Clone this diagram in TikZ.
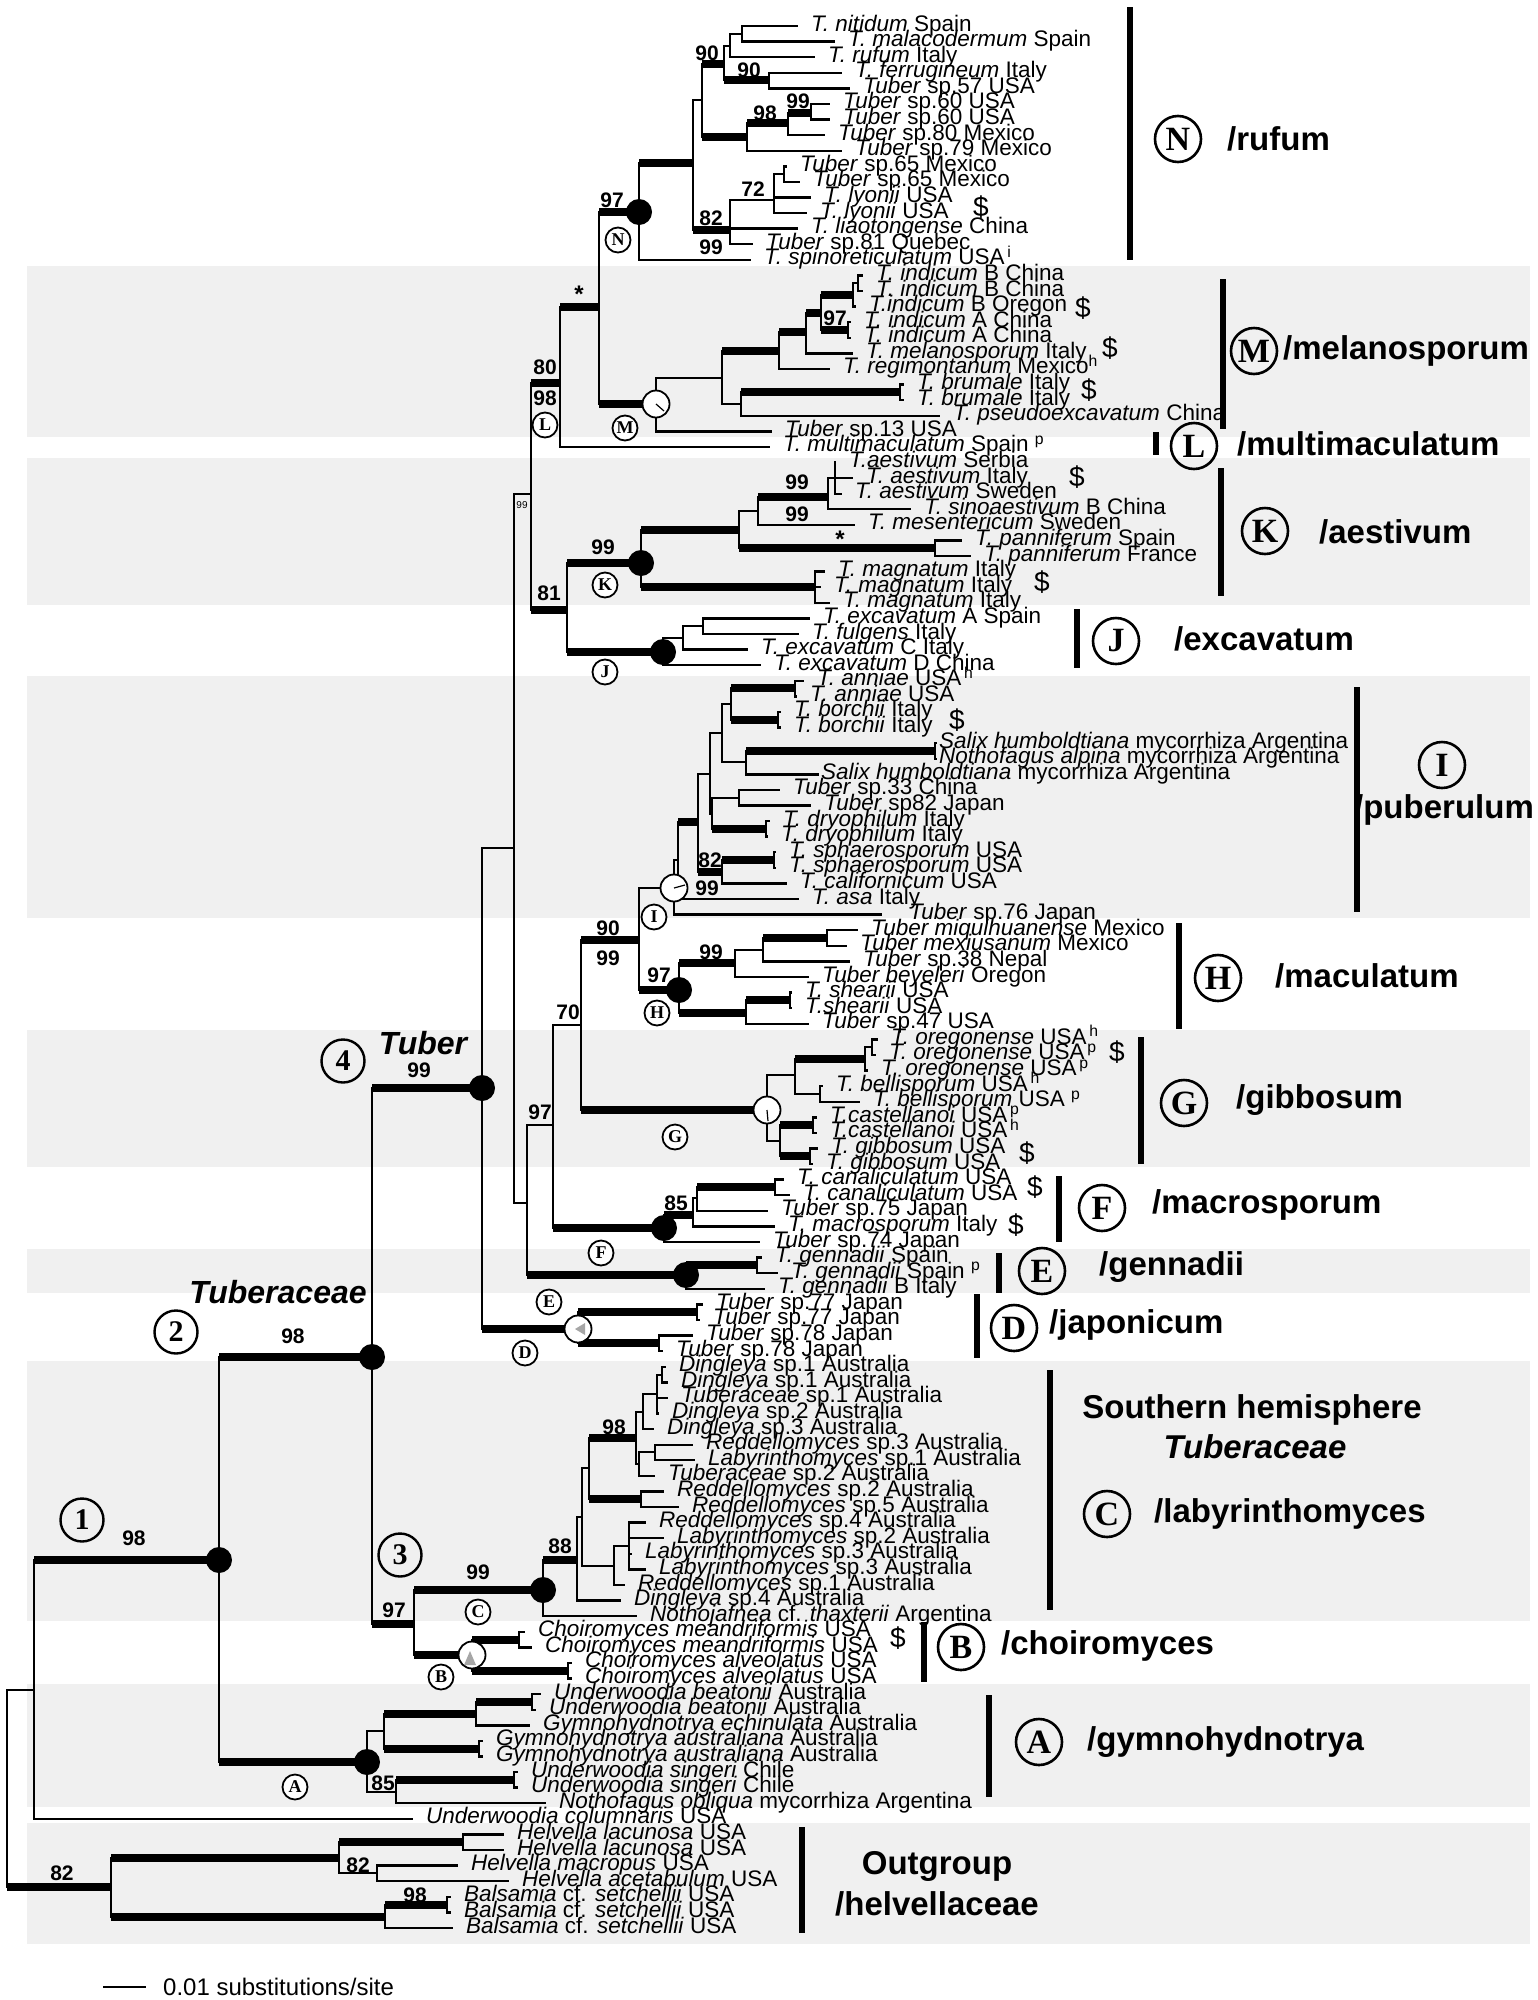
\documentclass[tikz,border=0pt]{standalone}
\usepackage{fontspec}
\setmainfont{Liberation Sans}
\newfontfamily\romfont{Liberation Serif}
\usetikzlibrary{calc}
\tikzset{leaf/.style={anchor=west,inner xsep=13pt,inner ysep=0pt,text height=14.5pt,text depth=4.5pt,font=\fontsize{22.5}{22.5}\selectfont}}
\tikzset{hl/.style={line width=2.4pt},fat/.style={line width=7.5pt}}
\tikzset{dot/.style={circle,fill,minimum size=26pt,inner sep=0pt},odot/.style={circle,draw,line width=1.8pt,fill=white,minimum size=27pt,inner sep=0pt}}
\tikzset{lc/.style={circle,draw,line width=1.8pt,fill=white,minimum size=25pt,inner sep=0pt,font=\romfont\bfseries\fontsize{18}{18}\selectfont}}
\tikzset{bc/.style={circle,draw,line width=2.6pt,minimum size=46pt,inner sep=0pt,font=\romfont\bfseries\fontsize{34}{34}\selectfont}}
\tikzset{nc/.style={circle,draw,line width=2.4pt,minimum size=43pt,inner sep=0pt,font=\romfont\bfseries\fontsize{30}{30}\selectfont}}
\tikzset{bs/.style={inner sep=0pt,font=\bfseries\fontsize{21}{21}\selectfont}}
\tikzset{cbar/.style={line width=6.5pt},clade/.style={anchor=west,inner sep=0pt,font=\bfseries\fontsize{33}{33}\selectfont}}
\tikzset{dol/.style={inner sep=0pt,font=\fontsize{28}{28}\selectfont},band/.style={fill=black!6}}
\newcommand\tb[2]{\draw[hl] (#1) |- (#2);}
\newcommand\fb[2]{\draw[hl] (#1) |- (#2); \draw[fat] (#1 |- #2) -- (#2);}
\begin{document}
\begin{tikzpicture}[x=1pt,y=-1pt]
\useasboundingbox (0,0) rectangle (1538,2000);
% grey bands
\foreach \ya/\yb in {266/437,458/605,676/918,1030/1167,1249/1293,1361/1621,1684/1807,1823/1944}
  \fill[band] (27,\ya) rectangle (1530,\yb);
% leaves
\foreach \i/\t/\s in {
1/798/{\textit{T. nitidum} Spain},
2/835/{\textit{T. malacodermum} Spain},
3/815/{\textit{T. rufum} Italy},
4/842/{\textit{T. ferrugineum}  Italy},
5/850/{\textit{Tuber} sp.57 USA},
6/830/{\textit{Tuber} sp.60 USA},
7/830/{\textit{Tuber} sp.60 USA},
8/825/{\textit{Tuber} sp.80 Mexico},
9/842/{\textit{Tuber} sp.79  Mexico},
10/787/{\textit{Tuber} sp.65 Mexico},
11/800/{\textit{Tuber} sp.65 Mexico},
12/811/{\textit{T. lyonii} USA},
13/807/{\textit{T. lyonii} USA},
14/798/{\textit{T. liaotongense} China},
15/753/{\textit{Tuber} sp.81  Quebec},
16/751/{\textit{T. spinoreticulatum}  USA\textsuperscript{\,i}},
17/863/{\textit{T. indicum} B China},
18/863/{\textit{T. indicum} B China},
19/856/{\textit{T.indicum} B Oregon},
20/851/{\textit{T. indicum} A China},
21/851/{\textit{T. indicum} A China},
22/853/{\textit{T. melanosporum} Italy},
23/830/{\textit{T. regimontanum} Mexico\textsuperscript{h}},
24/904/{\textit{T. brumale} Italy},
25/904/{\textit{T. brumale} Italy},
26/940/{\textit{T. pseudoexcavatum} China},
27/772/{\textit{Tuber} sp.13 USA},
28/770/{\textit{T. multimaculatum} Spain \textsuperscript{p}},
29/836/{\textit{T.aestivum} Serbia},
30/853/{\textit{T. aestivum} Italy},
31/842/{\textit{T. aestivum} Sweden},
32/911/{\textit{T. sinoaestivum} B China},
33/855/{\textit{T. mesentericum} Sweden},
34/962/{\textit{T. panniferum} Spain},
35/971/{\textit{T. panniferum} France},
36/825/{\textit{T. magnatum} Italy},
37/821/{\textit{T. magnatum} Italy},
38/830/{\textit{T. magnatum} Italy},
39/810/{\textit{T. excavatum}  A Spain},
40/799/{\textit{T. fulgens} Italy},
41/748/{\textit{T. excavatum} C Italy},
42/761/{\textit{T. excavatum} D China},
43/804/{\textit{T. anniae} USA\textsuperscript{\,h}},
44/797/{\textit{T. anniae} USA},
45/781/{\textit{T. borchii} Italy},
46/781/{\textit{T. borchii} Italy},
50/780/{\textit{Tuber} sp.33 China},
51/811/{\textit{Tuber} sp82 Japan},
52/770/{\textit{T. dryophilum} Italy},
53/768/{\textit{T. dryophilum} Italy},
54/776/{\textit{T. sphaerosporum} USA},
55/776/{\textit{T. sphaerosporum} USA},
56/787/{\textit{T. californicum} USA},
57/799/{\textit{T. asa} Italy}}
  \node[leaf] (l\i) at (\t,{26+(\i-1)*15.59}) {\s};
\node[leaf,inner xsep=2pt] (l47) at (937,{26+46*15.59}) {\textit{Salix humboldtiana} mycorrhiza Argentina};
\node[leaf,inner xsep=2pt] (l48) at (937,{26+47*15.59}) {\textit{Nothofagus alpina} mycorrhiza Argentina};
\node[leaf,inner xsep=2pt] (l49) at (819,{26+48*15.59}) {\textit{Salix humboldtiana} mycorrhiza Argentina};
\node[leaf,inner xsep=27pt] (l58) at (882,{26+57*15.59}) {\textit{Tuber} sp.76 Japan};
\foreach \i/\t/\s in {
59/858/{\textit{Tuber miquihuanense} Mexico},
60/847/{\textit{Tuber mexiusanum} Mexico},
61/850/{\textit{Tuber} sp.38 Nepal},
62/809/{\textit{Tuber beyeleri} Oregon},
63/792/{\textit{T. shearii} USA},
64/792/{\textit{T.shearii}  USA},
65/809/{\textit{Tuber} sp.47 USA},
66/878/{\textit{T. oregonense} USA\textsuperscript{\,h}},
67/876/{\textit{T. oregonense} USA\textsuperscript{\,p}},
68/868/{\textit{T. oregonense} USA\textsuperscript{\,p}},
69/823/{\textit{T. bellisporum} USA\textsuperscript{\,h}},
70/860/{\textit{T. bellisporum} USA \textsuperscript{p}},
71/817/{\textit{T.castellanoi} USA\textsuperscript{\,p}},
72/817/{\textit{T.castellanoi} USA\textsuperscript{\,h}},
73/818/{\textit{T. gibbosum} USA},
74/813/{\textit{T. gibbosum} USA},
75/784/{\textit{T. canaliculatum} USA},
76/790/{\textit{T. canaliculatum} USA},
77/768/{\textit{Tuber} sp.75 Japan},
78/775/{\textit{T. macrosporum} Italy},
79/760/{\textit{Tuber} sp.74 Japan},
80/762/{\textit{T. gennadii} Spain},
81/778/{\textit{T. gennadii} Spain \textsuperscript{p}},
82/765/{\textit{T. gennadii} B Italy},
83/703/{\textit{Tuber} sp.77 Japan},
84/700/{\textit{Tuber} sp.77 Japan},
85/693/{\textit{Tuber} sp.78 Japan},
86/663/{\textit{Tuber} sp.78 Japan}}
  \node[leaf] (l\i) at (\t,{26+(\i-1)*15.59}) {\s};
\foreach \i/\t/\s in {
87/666/{\textit{Dingleya} sp.1 Australia},
88/668/{\textit{Dingleya} sp.1 Australia},
89/668/{\textit{Tuberaceae} sp.1 Australia},
90/659/{\textit{Dingleya} sp.2 Australia},
91/654/{\textit{Dingleya} sp.3 Australia},
92/693/{\textit{Reddellomyces} sp.3 Australia},
93/695/{\textit{Labyrinthomyces} sp.1 Australia},
94/655/{\textit{Tuberaceae} sp.2 Australia},
95/664/{\textit{Reddellomyces} sp.2 Australia},
96/679/{\textit{Reddellomyces} sp.5 Australia},
97/646/{\textit{Reddellomyces} sp.4 Australia},
98/664/{\textit{Labyrinthomyces} sp.2 Australia},
99/632/{\textit{Labyrinthomyces} sp.3 Australia},
100/646/{\textit{Labyrinthomyces} sp.3 Australia},
101/625/{\textit{Reddellomyces} sp.1 Australia},
102/621/{\textit{Dingleya} sp.4 Australia},
103/637/{\textit{Nothojafnea} cf. \textit{thaxterii} Argentina},
104/525/{\textit{Choiromyces meandriformis} USA},
105/532/{\textit{Choiromyces meandriformis} USA},
106/572/{\textit{Choiromyces alveolatus} USA},
107/572/{\textit{Choiromyces alveolatus} USA},
108/541/{\textit{Underwoodia beatonii} Australia},
109/536/{\textit{Underwoodia beatonii} Australia},
110/530/{\textit{Gymnohydnotrya echinulata} Australia},
111/483/{\textit{Gymnohydnotrya australiana} Australia},
112/483/{\textit{Gymnohydnotrya australiana} Australia},
113/518/{\textit{Underwoodia singeri} Chile},
114/518/{\textit{Underwoodia singeri} Chile},
115/546/{\textit{Nothofagus obliqua} mycorrhiza Argentina},
116/413/{\textit{Underwoodia columnaris} USA},
117/504/{\textit{Helvella lacunosa} USA},
118/504/{\textit{Helvella lacunosa} USA},
119/458/{\textit{Helvella macropus} USA},
120/509/{\textit{Helvella acetabulum} USA},
121/451/{\textit{Balsamia} cf. \textit{setchellii} USA},
122/451/{\textit{Balsamia} cf. \textit{setchellii} USA},
123/453/{\textit{Balsamia} cf. \textit{setchellii} USA}}
  \node[leaf] (l\i) at (\t,{26+(\i-1)*15.59}) {\s};
% backbone
\coordinate (root) at (7,1788);
\coordinate (n1) at (34,1690);
\coordinate (og) at (111,1887);
\coordinate (tub) at (219,1560);
\coordinate (n2) at (372,1357);
\coordinate (nA) at (367,1762);
\coordinate (tuber) at (482,1088);
\coordinate (n3) at (414,1624);
\coordinate (nC) at (543,1590);
\coordinate (nB) at (472,1655);
\coordinate (t2) at (514,848);
\coordinate (t3) at (531,494);
\coordinate (t4) at (527,1203);
\coordinate (t5) at (553,1125);
\coordinate (t6) at (581,1025);
\coordinate (lmn) at (560,383);
\coordinate (kj) at (567,610);
\coordinate (star) at (599,307);
\coordinate (nN) at (639,212);
\coordinate (nM) at (656,404);
\coordinate (nK) at (641,563);
\coordinate (nJ) at (663,652);
\coordinate (ih) at (639,940);
\coordinate (nI) at (674,888);
\coordinate (nH) at (679,990);
\coordinate (nG) at (767,1110);
\coordinate (nF) at (664,1228);
\coordinate (nE) at (686,1275);
\coordinate (nD) at (578,1329);
\tb{root}{n1} \fb{root}{og}
\fb{n1}{tub} \tb{n1}{l116}
\fb{tub}{n2} \fb{tub}{nA}
\fb{n2}{tuber} \fb{n2}{n3}
\fb{n3}{nC} \fb{n3}{nB}
\tb{tuber}{t2} \fb{tuber}{nD}
\tb{t2}{t3} \tb{t2}{t4}
\fb{t3}{lmn} \fb{t3}{kj}
\fb{lmn}{star} \tb{lmn}{l28}
\fb{star}{nN} \fb{star}{nM}
\tb{t4}{t5} \fb{t4}{nE}
\tb{t5}{t6} \fb{t5}{nF}
\fb{t6}{ih} \fb{t6}{nG}
\tb{ih}{nI} \fb{ih}{nH}
\fb{kj}{nK} \fb{kj}{nJ}
% N /rufum
\coordinate (r1) at (742,34);
\coordinate (r2) at (730,46);
\coordinate (r3) at (724,64);
\coordinate (r4) at (769,80);
\coordinate (r5) at (747,137);
\coordinate (r6) at (788,123);
\coordinate (r7) at (811,113);
\coordinate (r8) at (702,100);
\coordinate (r9) at (693,163);
\coordinate (r10) at (730,230);
\coordinate (r11) at (774,200);
\coordinate (r13) at (784,174);
\fb{nN}{r9} \tb{nN}{l16}
\tb{r9}{r8} \fb{r9}{r10}
\fb{r8}{r3} \fb{r8}{r5}
\tb{r3}{r2} \fb{r3}{r4}
\tb{r2}{r1} \tb{r2}{l3}
\tb{r1}{l1} \tb{r1}{l2}
\tb{r4}{l4} \tb{r4}{l5}
\fb{r5}{r6} \tb{r5}{l9}
\fb{r6}{r7} \tb{r6}{l8}
\tb{r7}{l6} \tb{r7}{l7}
\tb{r10}{r11} \tb{r10}{l14} \tb{r10}{l15}
\tb{r11}{r13} \tb{r11}{l12} \tb{r11}{l13}
\tb{r13}{l10} \tb{r13}{l11}
% M /melanosporum
\coordinate (m1) at (722,378);
\coordinate (m2) at (779,351);
\coordinate (m3) at (741,404);
\coordinate (m4) at (806,332);
\coordinate (m5) at (821,313);
\coordinate (m6) at (853,295);
\coordinate (m7) at (848,330);
\coordinate (m8) at (858,283);
\coordinate (m9) at (900,392);
\tb{nM}{m1} \tb{nM}{l27}
\fb{m1}{m2} \tb{m1}{m3}
\fb{m2}{m4} \tb{m2}{l23}
\fb{m4}{m5} \tb{m4}{l22}
\fb{m5}{m6} \fb{m5}{m7}
\tb{m6}{m8} \tb{m6}{l19}
\tb{m8}{l17} \tb{m8}{l18}
\tb{m7}{l20} \tb{m7}{l21}
\fb{m3}{m9} \tb{m3}{l26}
\tb{m9}{l24} \tb{m9}{l25}
% K /aestivum and J /excavatum
\coordinate (k1) at (739,530);
\coordinate (k2) at (815,587);
\coordinate (k3) at (758,511);
\coordinate (k4) at (935,548);
\coordinate (k5) at (828,497);
\coordinate (k6) at (835,478);
\coordinate (j1) at (683,638);
\coordinate (j2) at (703,626);
\fb{nK}{k1} \fb{nK}{k2}
\tb{k1}{k3} \fb{k1}{k4}
\fb{k3}{k5} \tb{k3}{l33}
\tb{k5}{k6} \tb{k5}{l32}
\tb{k6}{l29} \tb{k6}{l30} \tb{k6}{l31}
\tb{k4}{l34} \tb{k4}{l35}
\tb{k2}{l36} \tb{k2}{l37} \tb{k2}{l38}
\tb{nJ}{j1} \tb{nJ}{l42} \tb{j1}{j2} \tb{j1}{l41} \tb{j2}{l39} \tb{j2}{l40}
% I /puberulum
\coordinate (i1) at (678,860);
\coordinate (i2) at (698,822);
\coordinate (i3) at (722,872);
\coordinate (i4) at (774,860);
\coordinate (i5) at (712,814);
\coordinate (i6) at (731,704);
\coordinate (i7) at (746,762);
\coordinate (i8) at (722,733);
\coordinate (i9) at (710,774);
\coordinate (i10) at (739,798);
\coordinate (i11) at (766,829);
\coordinate (i12) at (795,688);
\coordinate (i13) at (778,720);
\coordinate (i14) at (935,751);
\tb{nI}{i1} \tb{nI}{l58}
\fb{i1}{i2} \tb{i1}{l57}
\tb{i2}{i9} \fb{i2}{i3}
\fb{i3}{i4} \tb{i3}{l56}
\tb{i4}{l54} \tb{i4}{l55}
\tb{i9}{i8} \tb{i9}{i5}
\tb{i8}{i6} \tb{i8}{i7}
\fb{i6}{i12} \fb{i6}{i13}
\tb{i12}{l43} \tb{i12}{l44}
\tb{i13}{l45} \tb{i13}{l46}
\fb{i7}{i14} \tb{i7}{l49}
\tb{i14}{l47} \tb{i14}{l48}
\tb{i5}{i10} \fb{i5}{i11}
\tb{i10}{l50} \tb{i10}{l51}
\tb{i11}{l52} \tb{i11}{l53}
% H /maculatum
\coordinate (h1) at (735,963);
\coordinate (h2) at (763,950);
\coordinate (h3) at (827,938);
\coordinate (h4) at (746,1013);
\coordinate (h5) at (790,1000);
\fb{nH}{h1} \fb{nH}{h4}
\tb{h1}{h2} \tb{h1}{l62}
\fb{h2}{h3} \tb{h2}{l61}
\tb{h3}{l59} \tb{h3}{l60}
\fb{h4}{h5} \tb{h4}{l65}
\tb{h5}{l63} \tb{h5}{l64}
% G /gibbosum
\coordinate (g1) at (795,1075);
\coordinate (g2) at (865,1059);
\coordinate (g3) at (820,1094);
\coordinate (g4) at (872,1047);
\coordinate (g5) at (780,1141);
\coordinate (g6) at (813,1125);
\coordinate (g7) at (810,1156);
\tb{nG}{g1} \tb{nG}{g5}
\fb{g1}{g2} \tb{g1}{g3}
\tb{g2}{g4} \tb{g2}{l68}
\tb{g4}{l66} \tb{g4}{l67}
\tb{g3}{l69} \tb{g3}{l70}
\fb{g5}{g6} \fb{g5}{g7}
\tb{g6}{l71} \tb{g6}{l72}
\tb{g7}{l73} \tb{g7}{l74}
% F, E, D
\coordinate (f1) at (693,1215);
\coordinate (f2) at (775,1187);
\coordinate (f3) at (697,1198);
\coordinate (e1) at (757,1265);
\coordinate (d1) at (697,1312);
\coordinate (d2) at (659,1343);
\fb{nF}{f1} \tb{nF}{l79}
\tb{f1}{f3} \tb{f1}{l78}
\fb{f3}{f2} \tb{f3}{l77}
\tb{f2}{l75} \tb{f2}{l76}
\fb{nE}{e1} \tb{nE}{l82} \tb{e1}{l80} \tb{e1}{l81}
\fb{nD}{d1} \fb{nD}{d2} \tb{d1}{l83} \tb{d1}{l84} \tb{d2}{l85} \tb{d2}{l86}
% C /labyrinthomyces
\coordinate (c1) at (577,1560);
\coordinate (c2) at (582,1517);
\coordinate (c3) at (589,1468);
\coordinate (c4) at (636,1438);
\coordinate (c5) at (641,1499);
\coordinate (c6) at (643,1412);
\coordinate (c7) at (639,1464);
\coordinate (c8) at (657,1394);
\coordinate (c9) at (662,1375);
\coordinate (c10) at (655,1452);
\coordinate (c11) at (614,1566);
\coordinate (c12) at (629,1546);
\fb{nC}{c1} \tb{nC}{l103}
\tb{c1}{c2} \tb{c1}{l102}
\tb{c2}{c3} \tb{c2}{c11}
\fb{c3}{c4} \fb{c3}{c5}
\tb{c4}{c6} \tb{c4}{c7}
\tb{c6}{c8} \tb{c6}{l91}
\tb{c8}{c9} \tb{c8}{l89} \tb{c8}{l90}
\tb{c9}{l87} \tb{c9}{l88}
\tb{c7}{c10} \tb{c7}{l94}
\tb{c10}{l92} \tb{c10}{l93}
\tb{c5}{l95} \tb{c5}{l96}
\tb{c11}{c12} \tb{c11}{l101}
\tb{c12}{l97} \tb{c12}{l98} \tb{c12}{l99} \tb{c12}{l100}
% B, A, outgroup
\coordinate (b1) at (519,1640);
\coordinate (b2) at (568,1671);
\fb{nB}{b1} \fb{nB}{b2} \tb{b1}{l104} \tb{b1}{l105} \tb{b2}{l106} \tb{b2}{l107}
\coordinate (ga1) at (384,1731);
\coordinate (ga2) at (396,1792);
\coordinate (gaa) at (476,1714);
\coordinate (gab) at (532,1702);
\coordinate (gac) at (479,1749);
\coordinate (gad) at (514,1780);
\tb{nA}{ga1} \tb{nA}{ga2}
\fb{ga1}{gaa} \fb{ga1}{gac}
\fb{gaa}{gab} \tb{gaa}{l110}
\tb{gab}{l108} \tb{gab}{l109}
\tb{gac}{l111} \tb{gac}{l112}
\fb{ga2}{gad} \tb{ga2}{l115}
\tb{gad}{l113} \tb{gad}{l114}
\coordinate (o1) at (339,1858);
\coordinate (o2) at (463,1842);
\coordinate (o3) at (377,1873);
\coordinate (o4) at (385,1917);
\coordinate (o5) at (447,1905);
\fb{og}{o1} \fb{og}{o4}
\fb{o1}{o2} \tb{o1}{o3}
\tb{o2}{l117} \tb{o2}{l118}
\tb{o3}{l119} \tb{o3}{l120}
\fb{o4}{o5} \tb{o4}{l123}
\tb{o5}{l121} \tb{o5}{l122}
% node markers
\foreach \n in {tub,n2,tuber,nC,nA,nN,nK,nJ,nH,nF,nE}
  \node[dot] (dot-\n) at (\n) {};
\foreach \n in {nM,nI,nG,nD,nB}
  \node[odot] (odot-\n) at (\n) {};
\draw[line width=1.2pt] (nM) -- ++(8,7);
\draw[line width=1.2pt] (nI) -- ++(11,-3);
\draw[line width=1.2pt] (nG) -- ++(1,11);
\fill[black!35] (nD) ++(-3,0) -- ++(10,-6) -- ++(0,12) -- cycle;
\fill[black!35] (nB) ++(-8,10) -- ++(6,-14) -- ++(6,14) -- cycle;
% support values
\foreach \x/\y/\v [count=\k] in {612/200/97,707/53/90,749/70/90,765/113/98,798/101/99,753/189/72,711/218/82,711/247/99,
  545/367/80,545/398/98,835/318/97,549/593/81,603/547/99,797/482/99,797/514/99,
  608/928/90,608/958/99,659/975/97,711/952/99,568/1012/70,540/1112/97,710/860/82,707/888/99,
  676/1203/85,614/1427/98,560/1546/88,478/1572/99,394/1610/97,383/1783/85,
  62/1873/82,358/1865/82,415/1895/98,134/1538/98,293/1336/98,419/1070/99}
  \node[bs] (bs\k) at (\x,\y) {\v};
\node[bs,font=\bfseries\fontsize{24}{24}\selectfont] (ast1) at (579,294) {*};
\node[bs,font=\bfseries\fontsize{24}{24}\selectfont] (ast2) at (840,539) {*};
\node[inner sep=0pt,font=\fontsize{10}{10}\selectfont] (bs99t) at (522,505) {99};
% clade letters on the tree
\foreach \x/\y/\c in {618/240/N,625/428/M,545/425/L,605/585/K,605/672/J,654/917/I,657/1013/H,675/1137/G,
  601/1253/F,549/1302/E,525/1353/D,478/1612/C,441/1677/B,295/1787/A}
  \node[lc] (lc\c) at (\x,\y) {\c};
\node[nc] (num1) at (82,1520) {1};
\node[nc] (num2) at (176,1332) {2};
\node[nc] (num3) at (400,1555) {3};
\node[nc] (num4) at (343,1061) {4};
\node[inner sep=0pt,font=\bfseries\itshape\fontsize{32}{32}\selectfont] (txtuber) at (423,1043) {Tuber};
\node[inner sep=0pt,font=\bfseries\itshape\fontsize{32}{32}\selectfont] (txtuberaceae) at (278,1292) {Tuberaceae};
% dollar signs
\foreach \x/\y [count=\k] in {981/207,1083/308,1110/348,1089/390,1077/477,1042/582,957/720,1117/1052,1027/1153,1035/1187,1016/1225,898/1638}
  \node[dol] (usd\k) at (\x,\y) {\$};
% clade bars and names
\draw[cbar] (1130,7) -- (1130,260);
\node[bc] (bcN) at (1178,139) {N};
\node[clade] (clN) at (1227,139) {/rufum};
\draw[cbar] (1223,279) -- (1223,429);
\node[bc] (bcM) at (1254,351) {M};
\node[clade] (clM) at (1283,351) {/melanosporum};
\draw[cbar] (1156,432) -- (1156,455);
\node[bc] (bcL) at (1194,446) {L};
\node[clade] (clL) at (1237,444) {/multimaculatum};
\draw[cbar] (1221,468) -- (1221,596);
\node[bc] (bcK) at (1265,531) {K};
\node[clade] (clK) at (1319,532) {/aestivum};
\draw[cbar] (1077,609) -- (1077,668);
\node[bc] (bcJ) at (1116,641) {J};
\node[clade] (clJ) at (1174,639) {/excavatum};
\draw[cbar] (1357,687) -- (1357,912);
\node[bc] (bcI) at (1442,765) {I};
\node[clade,anchor=east] (clI) at (1534,810) {/puberulum};
\draw[cbar] (1179,923) -- (1179,1029);
\node[bc] (bcH) at (1218,978) {H};
\node[clade] (clH) at (1275,976) {/maculatum};
\draw[cbar] (1141,1037) -- (1141,1164);
\node[bc] (bcG) at (1184,1103) {G};
\node[clade] (clG) at (1236,1100) {/gibbosum};
\draw[cbar] (1059,1176) -- (1059,1242);
\node[bc] (bcF) at (1102,1208) {F};
\node[clade] (clF) at (1152,1205) {/macrosporum};
\draw[cbar] (999,1253) -- (999,1293);
\node[bc] (bcE) at (1042,1271) {E};
\node[clade] (clE) at (1099,1267) {/gennadii};
\draw[cbar] (977,1294) -- (977,1358);
\node[bc] (bcD) at (1014,1328) {D};
\node[clade] (clD) at (1049,1325) {/japonicum};
\draw[cbar] (1050,1370) -- (1050,1610);
\node[clade,anchor=center] (clSH) at (1252,1410) {Southern hemisphere};
\node[clade,anchor=center] (clTu) at (1255,1447) {\itshape Tuberaceae};
\node[bc] (bcC) at (1107,1514) {C};
\node[clade] (clC) at (1154,1514) {/labyrinthomyces};
\draw[cbar] (924,1622) -- (924,1682);
\node[bc] (bcB) at (961,1647) {B};
\node[clade] (clB) at (1001,1646) {/choiromyces};
\draw[cbar] (989,1695) -- (989,1797);
\node[bc] (bcA) at (1039,1742) {A};
\node[clade] (clA) at (1087,1742) {/gymnohydnotrya};
\draw[cbar] (802,1827) -- (802,1933);
\node[clade,anchor=center] (clO1) at (937,1866) {Outgroup};
\node[clade,anchor=center] (clO2) at (937,1904) {/helvellaceae};
% scale
\coordinate (sc1) at (103,1987);
\coordinate (sc2) at (146,1987);
\draw[hl] (sc1) -- (sc2);
\node[anchor=west,inner sep=0pt,font=\fontsize{24}{24}\selectfont] (sclab) at (163,1987) {0.01 substitutions/site};
\end{tikzpicture}
\end{document}
